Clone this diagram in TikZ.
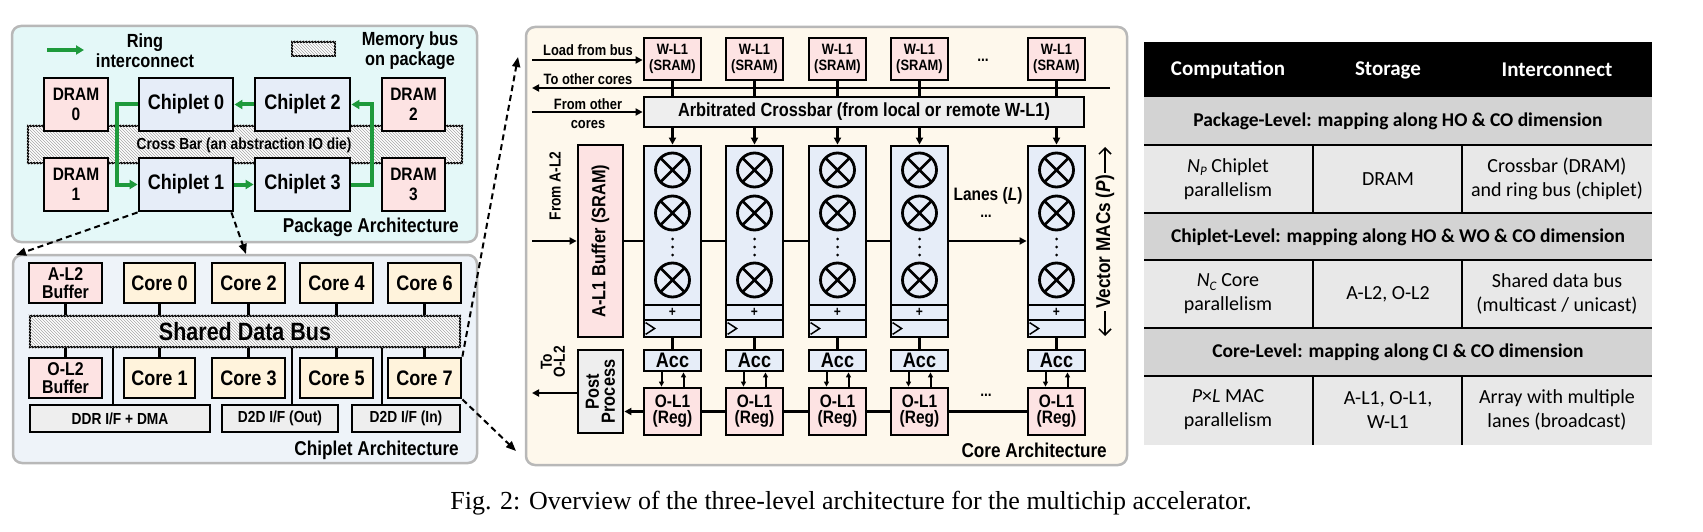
\documentclass[tikz,border=0pt]{standalone}
\usepackage{fontspec}
\setmainfont{Liberation Sans}[FakeStretch=0.86]
\newfontfamily\tabf{Carlito}
\newfontfamily\capf{Liberation Serif}
\usetikzlibrary{arrows.meta,patterns,calc}
\definecolor{pinkf}{HTML}{FDE3E3}
\definecolor{chipf}{HTML}{E6EDF8}
\definecolor{coref}{HTML}{FFF3DC}
\definecolor{grayf}{HTML}{EEEEEE}
\definecolor{pkgbg}{HTML}{E4F8F8}
\definecolor{chpbg}{HTML}{EEF3F9}
\definecolor{corebg}{HTML}{FEF8EC}
\definecolor{panb}{HTML}{B8B8B8}
\definecolor{ringg}{HTML}{1E9A3C}
\definecolor{secg}{HTML}{D3D3D3}
\definecolor{datg}{HTML}{E8E8E8}
\newcommand\myfs[1]{\fontsize{#1}{#1}\selectfont}
\newcommand\bx[7][]{\node[box,#1,minimum width={(#5-#3)*1pt},minimum height={(#6-#4)*1pt}] (#2) at ({(#3+#5)/2},{(#4+#6)/2}) {#7};}
\tikzset{
 box/.style={draw,line width=2.8pt,inner sep=0pt,font=\bfseries,align=center},
 panel/.style={draw=panb,line width=2.5pt,rounded corners=9pt},
 hatch/.style={pattern=north west lines,pattern color=gray!70},
 ln/.style={line width=2.8pt},
 arr/.style={line width=2.8pt,-{Triangle[length=7pt,width=7pt]}},
 ring/.style={ringg,line width=4pt,-{Triangle[length=8pt,width=9pt]}},
 dsh/.style={line width=2pt,dash pattern=on 6pt off 4pt,-{Triangle[length=10pt,width=8pt]}},
 lbl/.style={font=\bfseries,align=center,inner sep=0pt},
}
\begin{document}
\begin{tikzpicture}[x=1pt,y=-1pt]
\useasboundingbox (0,0) rectangle (1703,532);
% ================= Package =================
\draw[panel,fill=pkgbg] (12,26) rectangle (477,242);
\coordinate (lg1) at (47,50); \coordinate (lg2) at (84,50);
\draw[ring] (lg1) -- (lg2);
\node[lbl,font=\bfseries\myfs{19}] (ringt) at (145,51) {Ring\\[1pt]interconnect};
\bx[fill=white,line width=2pt]{lgh}{292}{42}{335}{56}{}
\fill[hatch] (lgh.south west) rectangle (lgh.north east);
\node[lbl,font=\bfseries\myfs{19}] (memt) at (410,51) {Memory bus\\[1pt]on package};
\bx[fill=white]{XBP}{28}{126}{462}{163}{}
\fill[hatch] (XBP.south west) rectangle (XBP.north east);
\node[lbl,font=\bfseries\myfs{16}] (xbt) at (244,145) {Cross Bar (an abstraction IO die)};
\bx[fill=pinkf,font=\bfseries\myfs{18}]{D0}{44}{78}{108}{131}{DRAM\\[2pt]0}
\bx[fill=pinkf,font=\bfseries\myfs{18}]{D1}{44}{158}{108}{211}{DRAM\\[2pt]1}
\bx[fill=pinkf,font=\bfseries\myfs{18}]{D2}{382}{78}{445}{131}{DRAM\\[2pt]2}
\bx[fill=pinkf,font=\bfseries\myfs{18}]{D3}{382}{158}{445}{211}{DRAM\\[2pt]3}
\bx[fill=chipf,font=\bfseries\myfs{21}]{C0}{139}{78}{233}{131}{Chiplet 0}
\bx[fill=chipf,font=\bfseries\myfs{21}]{C1}{139}{158}{233}{211}{Chiplet 1}
\bx[fill=chipf,font=\bfseries\myfs{21}]{C2}{255}{78}{350}{131}{Chiplet 2}
\bx[fill=chipf,font=\bfseries\myfs{21}]{C3}{255}{158}{350}{211}{Chiplet 3}
\draw[ring] (C0.west) -- ++(-21,0) |- (C1.west);
\draw[ring] (C1.east) -- (C3.west);
\draw[ring] (C3.east) -- ++(21,0) |- (C2.east);
\draw[ring] (C2.west) -- (C0.east);
\node[lbl,font=\bfseries\myfs{20},anchor=east] (pkgt) at (459,227) {Package Architecture};
% ================= Chiplet =================
\draw[panel,fill=chpbg] (13,255) rectangle (477,463);
\bx[fill=white]{SDB}{30}{316}{460}{347}{}
\fill[hatch] (SDB.south west) rectangle (SDB.north east);
\node[lbl,font=\bfseries\myfs{25}] (sdbt) at (245,332) {Shared Data Bus};
\bx[fill=pinkf,font=\bfseries\myfs{18.5}]{AL2}{29}{263}{102}{303}{A-L2\\[-1pt]Buffer}
\bx[fill=pinkf,font=\bfseries\myfs{18.5}]{OL2}{29}{358}{102}{398}{O-L2\\[-1pt]Buffer}
\bx[fill=coref,font=\bfseries\myfs{21}]{K0}{124}{263}{195}{303}{Core 0}
\bx[fill=coref,font=\bfseries\myfs{21}]{K2}{212}{263}{285}{303}{Core 2}
\bx[fill=coref,font=\bfseries\myfs{21}]{K4}{300}{263}{373}{303}{Core 4}
\bx[fill=coref,font=\bfseries\myfs{21}]{K6}{388}{263}{461}{303}{Core 6}
\bx[fill=coref,font=\bfseries\myfs{21}]{K1}{124}{358}{195}{398}{Core 1}
\bx[fill=coref,font=\bfseries\myfs{21}]{K3}{212}{358}{285}{398}{Core 3}
\bx[fill=coref,font=\bfseries\myfs{21}]{K5}{300}{358}{373}{398}{Core 5}
\bx[fill=coref,font=\bfseries\myfs{21}]{K7}{388}{358}{461}{398}{Core 7}
\bx[fill=grayf,font=\bfseries\myfs{16}]{DDR}{30}{405}{210}{432}{DDR I/F + DMA}
\bx[fill=grayf,font=\bfseries\myfs{16}]{DOUT}{222}{405}{338}{432}{D2D I/F (Out)}
\bx[fill=grayf,font=\bfseries\myfs{16}]{DIN}{352}{405}{460}{432}{D2D I/F (In)}
\foreach \n in {AL2,K0,K2,K4,K6} \draw[ln] (\n.south) -- (\n.south |- SDB.north);
\foreach \n in {OL2,K1,K3,K5,K7} \draw[ln] (\n.north) -- (\n.north |- SDB.south);
\foreach \xx/\n in {113/DDR,292/DOUT,382/DIN} \draw[ln] (SDB.south -| \xx,0) -- (\n.north -| \xx,0);
\node[lbl,font=\bfseries\myfs{20},anchor=east] (chpt) at (459,450) {Chiplet Architecture};
% dashed zoom arrows
\coordinate (da1) at (16,255); \coordinate (da2) at (246,254);
\coordinate (da3) at (518,57); \coordinate (da4) at (516,451);
\draw[dsh] (C1.south west) -- (da1);
\draw[dsh] ([xshift=-3pt]C1.south east) -- (da2);
\draw[dsh] (K7.north east) -- (da3);
\draw[dsh] (K7.south east) -- (da4);
% ================= Core =================
\draw[panel,fill=corebg] (526,27) rectangle (1127,465);
\coordinate (busR) at (1110,88); \coordinate (busL) at (532,88);
\coordinate (ldL) at (532,60); \coordinate (foL) at (532,112);
\coordinate (faL) at (532,241); \coordinate (toL) at (532,393);
\draw[arr] (busR) -- (busL);
\node[lbl,font=\bfseries\myfs{15},anchor=south] (ldt) at (588,56) {Load from bus};
\node[lbl,font=\bfseries\myfs{15},anchor=south] (tot) at (588,85) {To other cores};
\node[lbl,font=\bfseries\myfs{15}] (fot) at (588,114) {From other\\[4pt]cores};
\bx[fill=grayf,font=\bfseries\myfs{19}]{XB}{644}{97}{1084}{127}{Arbitrated Crossbar (from local or remote W-L1)}
\draw[arr] (foL) -- (foL -| XB.west);
\bx[fill=pinkf,font=\bfseries\myfs{19}]{AL1}{578}{145}{623}{337}{}
\node[lbl,rotate=90,font=\bfseries\myfs{19}] (al1t) at (AL1.center) {A-L1 Buffer (SRAM)};
\node[lbl,rotate=90,font=\bfseries\myfs{16}] (fat) at (555,186) {From A-L2};
\draw[arr] (faL) -- (AL1.west);
\bx[fill=grayf]{PP}{578}{350}{623}{433}{}
\node[lbl,rotate=90,font=\bfseries\myfs{19}] (ppt) at (PP.center) {Post\\[-3pt]Process};
\node[lbl,rotate=90,font=\bfseries\myfs{16}] (tot2) at (553,362) {To\\[-3pt]O-L2};
\draw[arr] (PP.west |- toL) -- (toL);
\foreach \i/\xx in {1/644,2/726,3/809,4/891,5/1028}{
  \pgfmathsetmacro\xb{\xx+57}
  \bx[fill=pinkf,font=\bfseries\myfs{15}]{W\i}{\xx}{38}{\xb}{80}{W-L1\\[1pt](SRAM)}
  \bx[fill=chipf]{L\i}{\xx}{146}{\xb}{305}{}
  \bx[fill=chipf,font=\bfseries\myfs{14}]{P\i}{\xx}{305}{\xb}{320}{+}
  \bx[fill=chipf]{R\i}{\xx}{320}{\xb}{337}{}
  \bx[fill=chipf,font=\bfseries\myfs{21}]{A\i}{\xx}{350}{\xb}{371}{Acc}
  \bx[fill=pinkf,font=\bfseries\myfs{18}]{O\i}{\xx}{388}{\xb}{435}{O-L1\\[-2pt](Reg)}
  \draw[line width=1.5pt] ($(R\i.north west)+(3,4)$) -- ($(R\i.west)+(12,0)$) -- ($(R\i.south west)+(3,-4)$);
  \draw[ln] (W\i.south) -- (W\i.south |- XB.north);
  \draw[arr] (W\i.south |- XB.south) -- (L\i.north);
  \draw[ln] (R\i.south) -- (A\i.north);
  \draw[line width=2pt,-{Triangle[length=5pt,width=5pt]}] ([xshift=-11pt]A\i.south) -- ([xshift=-11pt]O\i.north);
  \draw[line width=2pt,-{Triangle[length=5pt,width=5pt]}] ([xshift=11pt]O\i.north) -- ([xshift=11pt]A\i.south);
  \pgfmathsetmacro\xc{\xx+28.5}
  \foreach \yy in {170,213,280}{
    \draw[line width=2.8pt] (\xc,\yy) circle[radius=17pt];
    \draw[line width=2.8pt] (\xc-12,\yy-12) -- (\xc+12,\yy+12) (\xc-12,\yy+12) -- (\xc+12,\yy-12);
  }
  \foreach \yy in {239,247,255} \fill (\xc,\yy) circle[radius=1.5pt];
}
\draw[arr] (ldL) -- (W1.west |- ldL);
\draw[ln] (AL1.east) -- (L1.west |- AL1.east);
\draw[ln] (L1.east |- AL1.east) -- (L2.west |- AL1.east);
\draw[ln] (L2.east |- AL1.east) -- (L3.west |- AL1.east);
\draw[ln] (L3.east |- AL1.east) -- (L4.west |- AL1.east);
\draw[arr] (L4.east |- AL1.east) -- (L5.west |- AL1.east);
\draw[arr] (O1.west) -- (PP.east |- O1.west);
\draw[ln] (O1.east) -- (O2.west);
\draw[ln] (O2.east) -- (O3.west);
\draw[ln] (O3.east) -- (O4.west);
\draw[ln] (O4.east) -- (O5.west);
\node[lbl,font=\bfseries\myfs{16}] (dw) at (983,60) {...};
\node[lbl,font=\bfseries\myfs{16}] (dol) at (986,395) {...};
\node[lbl,font=\bfseries\myfs{18}] (lanes) at (988,196) {Lanes (\textit{L})};
\node[lbl,font=\bfseries\myfs{16}] (dl) at (986,216) {...};
\coordinate (vmT) at (1105,147); \coordinate (vmB) at (1105,336);
\draw[line width=1.5pt,{Straight Barb[length=6pt]}-{Straight Barb[length=6pt]}] (vmB) -- (vmT);
\node[lbl,rotate=90,fill=corebg,inner sep=2pt,font=\bfseries\myfs{20}] (vmt) at (1105,242) {Vector MACs (\textit{P})};
\node[lbl,font=\bfseries\myfs{20},anchor=east] (cort) at (1107,450) {Core Architecture};
% ================= Table =================
\fill[black] (1144,42) rectangle (1652,97);
\fill[secg] (1144,97) rectangle (1652,145);
\fill[datg] (1144,145) rectangle (1652,213);
\fill[secg] (1144,213) rectangle (1652,260);
\fill[datg] (1144,260) rectangle (1652,328);
\fill[secg] (1144,328) rectangle (1652,376);
\fill[datg] (1144,376) rectangle (1652,445);
\foreach \yy in {145,213,260,328,376} \draw[line width=2.5pt] (1144,\yy) -- (1652,\yy);
\foreach \ya/\yb in {145/213,260/328,376/445}{
  \draw[line width=2pt] (1313,\ya) -- (1313,\yb);
  \draw[line width=2pt] (1462,\ya) -- (1462,\yb);
}
\tikzset{th/.style={text=white,font=\tabf\bfseries\myfs{21},inner sep=0pt},
 ts/.style={font=\tabf\bfseries\myfs{19.5},inner sep=0pt},
 td/.style={font=\tabf\myfs{20},align=center,inner sep=0pt}}
\node[th] (h1) at (1228,70) {Computation};
\node[th] (h2) at (1388,70) {Storage};
\node[th] (h3) at (1557,70) {Interconnect};
\node[ts] (s1) at (1398,121) {Package-Level: mapping along HO \& CO dimension};
\node[ts] (s2) at (1398,237) {Chiplet-Level: mapping along HO \& WO \& CO dimension};
\node[ts] (s3) at (1398,352) {Core-Level: mapping along CI \& CO dimension};
\node[td] (r11) at (1228,179) {\textit{N}\raisebox{-0.35ex}{\myfs{13}\textit{P}} Chiplet\\[4pt]parallelism};
\node[td] (r12) at (1388,179) {DRAM};
\node[td] (r13) at (1557,179) {Crossbar (DRAM)\\[4pt]and ring bus (chiplet)};
\node[td] (r21) at (1228,294) {\textit{N}\raisebox{-0.35ex}{\myfs{13}\textit{C}} Core\\[4pt]parallelism};
\node[td] (r22) at (1388,294) {A-L2, O-L2};
\node[td] (r23) at (1557,294) {Shared data bus\\[4pt](multicast / unicast)};
\node[td] (r31) at (1228,410) {\textit{P}×\textit{L} MAC\\[4pt]parallelism};
\node[td] (r32) at (1388,410) {A-L1, O-L1,\\[4pt]W-L1};
\node[td] (r33) at (1557,410) {Array with multiple\\[4pt]lanes (broadcast)};
% caption
\node[font=\capf\myfs{26},inner sep=0pt] (cap) at (851,503) {Fig. 2: Overview of the three-level architecture for the multichip accelerator.};
\end{tikzpicture}
\end{document}
